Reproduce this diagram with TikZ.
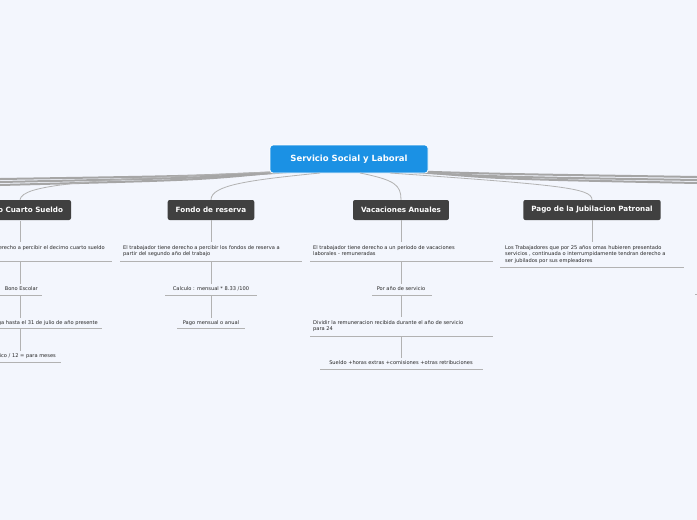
\documentclass[tikz,border=0pt]{standalone}
\usepackage{fontspec}
\setmainfont{DejaVu Sans}
\begin{document}
\begin{tikzpicture}[x=1pt,y=-1pt,
  conn/.style={draw=black!30,line width=0.8pt},
  thick/.style={draw=black!35,line width=2pt},
  topic/.style={fill=black!75,text=white,rounded corners=2pt,font=\fontsize{7.2}{8}\selectfont\bfseries,minimum height=20pt,inner xsep=8pt},
  small/.style={font=\fontsize{5.1}{6.6}\selectfont,text=black!85,inner sep=1pt},
  ul/.style={draw=black!30,line width=0.8pt}]
\useasboundingbox (0,0) rectangle (697,520);
\fill[fill={rgb,255:red,243;green,246;blue,253}] (0,0) rectangle (697,520);
\clip (0,0) rectangle (697,520);
% thick branches off-picture
\draw[thick] (300,171) .. controls (200,176) .. (0,179);
\draw[thick] (290,172) .. controls (200,178) .. (0,182);
\draw[thick] (280,172) .. controls (200,180) .. (0,185);
\draw[thick] (400,171) .. controls (500,174) .. (697,177);
\draw[thick] (410,172) .. controls (500,177) .. (697,180);
\draw[thick] (420,172) .. controls (500,179) .. (697,183);
% root
\node[fill={rgb,255:red,27;green,145;blue,228},draw=white,line width=0.8pt,rounded corners=3pt,text=white,font=\fontsize{8.5}{10}\selectfont\bfseries,minimum width=158pt,minimum height=28pt] (root) at (349,159) {Servicio Social y Laboral};
% topics
\node[topic] (dc) at (18,210) {Decimo Cuarto Sueldo};
\node[topic] (fr) at (211,210) {Fondo de reserva};
\node[topic] (va) at (401,210) {Vacaciones Anuales};
\node[topic] (pj) at (592,210) {Pago de la Jubilacion Patronal};
\draw[conn] (270,172) .. controls (80,180) and (22,185) .. (dc.north -| 20,0);
\draw[conn] (320,173) .. controls (250,180) and (211,185) .. (fr.north);
\draw[conn] (360,173) .. controls (395,180) and (401,185) .. (va.north);
\draw[conn] (390,173) .. controls (560,185) and (592,188) .. (pj.north);
% Decimo column
\node[small,align=left,anchor=north east] (d1) at (106,244) {El trabajador tiene derecho a percibir el decimo cuarto sueldo\\y pensionistas};
\draw[ul] (0,261) -- (112,261);
\node[small,anchor=east] (d2) at (39,289) {Bono Escolar};
\draw[ul] (0,295) -- (42,295);
\node[small,anchor=east] (d3) at (99,323) {Se paga hasta el 31 de julio de año presente};
\draw[ul] (0,328) -- (102,328);
\node[small,anchor=east] (d4) at (57,356) {Sueldo basico / 12 = para meses};
\draw[ul] (0,362) -- (61,362);
\draw[conn] (20,221) -- (20,242) (20,261) -- (20,284) (20,295) -- (20,318) (20,328) -- (20,351);
% Fondo column
\node[small,align=left,anchor=north west] (f1) at (122,244) {El trabajador tiene derecho a percibir los fondos de reserva a\\partir del segundo año del trabajo};
\draw[ul] (120,261) -- (302,261);
\node[small] (f2) at (211,289) {Calculo : mensual * 8.33 /100};
\draw[ul] (165,295) -- (257,295);
\node[small] (f3) at (211,323) {Pago mensual o anual};
\draw[ul] (177,328) -- (245,328);
\draw[conn] (fr.south) -- (211,242) (211,261) -- (211,284) (211,295) -- (211,318);
% Vacaciones column
\node[small,align=left,anchor=north west] (v1) at (312,244) {El trabajador tiene derecho a un periodo de vacaciones\\laborales - remuneradas};
\draw[ul] (310,261) -- (493,261);
\node[small] (v2) at (401,289) {Por año de servicio};
\draw[ul] (372,295) -- (432,295);
\node[small,align=left,anchor=north west] (v3) at (312,319) {Dividir la remuneracion recibida durante el año de servicio\\para 24};
\draw[ul] (310,336) -- (493,336);
\node[small] (v4) at (401,363) {Sueldo +horas extras +comisiones +otras retribuciones};
\draw[ul] (320,369) -- (483,369);
\draw[conn] (va.south) -- (401,242) (401,261) -- (401,284) (401,295) -- (401,317) (401,336) -- (401,358);
% Pago column
\node[small,align=left,anchor=north west] (p1) at (504,244) {Los Trabajadores que por 25 años omas hubieren presentado\\servicios , continuada o interrumpidamente tendran derecho a\\ser jubilados por sus empleadores};
\draw[ul] (500,267) -- (684,267);
\draw[conn] (pj.south) -- (592,242);
\coordinate (re) at (695,294);
\draw[ul] (re) -- (697,294);
\end{tikzpicture}
\end{document}
